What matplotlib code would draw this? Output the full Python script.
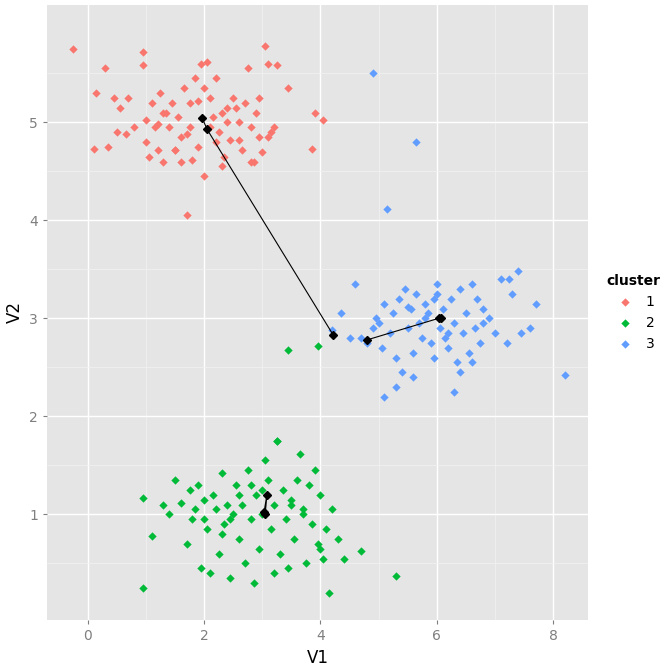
import matplotlib
matplotlib.use("Agg")
import matplotlib.pyplot as plt

c1_x = [-0.25,0.1,0.15,0.3,0.35,0.45,0.5,0.55,0.65,0.7,0.95,0.95,1.0,1.05,1.1,1.15,1.2,1.25,1.3,1.35,1.4,1.45,1.5,1.55,1.6,1.65,1.7,1.7,1.75,1.8,1.85,1.9,1.95,2.0,2.05,2.1,2.1,2.15,2.2,2.2,2.25,2.3,2.35,2.4,2.45,2.5,2.55,2.6,2.65,2.7,2.75,2.8,2.85,2.9,2.95,3.0,3.05,3.1,3.15,3.2,3.25,3.45,3.85,3.9,4.05,1.0,1.3,1.6,2.0,2.4,2.8,3.1,1.5,1.2,0.8,2.6,1.9,2.3,2.95,1.75]
c1_y = [5.75,4.73,5.3,5.55,4.75,5.25,4.9,5.15,4.88,5.25,5.72,5.58,5.02,4.65,5.2,4.95,4.72,5.3,4.6,5.1,4.95,5.2,4.72,5.05,4.6,5.35,4.05,4.88,5.2,4.62,5.45,4.75,5.6,4.45,5.62,4.95,5.25,5.05,5.45,4.8,4.9,5.1,4.65,5.0,4.82,5.25,5.15,5.0,4.72,5.2,5.55,4.95,4.6,5.1,4.85,4.7,5.78,5.6,4.9,4.95,5.58,5.35,4.73,5.1,5.02,4.8,5.1,4.85,5.35,5.15,4.6,4.85,4.72,4.98,4.95,4.82,5.22,4.55,5.25,4.95]

c2_x = [0.95,0.95,1.1,1.3,1.4,1.5,1.6,1.7,1.75,1.8,1.9,1.95,2.0,2.05,2.1,2.15,2.2,2.25,2.3,2.35,2.4,2.45,2.5,2.55,2.6,2.65,2.7,2.75,2.8,2.85,2.9,2.95,3.0,3.05,3.1,3.15,3.2,3.25,3.3,3.35,3.4,3.45,3.5,3.55,3.6,3.65,3.7,3.75,3.8,3.85,3.9,3.95,4.0,4.05,4.1,4.15,4.2,4.3,4.4,4.7,5.3,3.45,3.95,3.25,2.0,2.6,3.0,3.5,2.3,1.85,2.8,3.7,4.0,3.2,2.45]
c2_y = [1.17,0.25,0.78,1.1,1.0,1.35,1.12,0.7,1.25,0.95,1.3,0.45,1.15,0.85,0.4,1.2,1.05,0.6,1.42,0.9,1.1,0.35,1.0,1.3,0.75,1.1,0.5,1.45,0.95,0.3,1.2,0.65,1.0,1.55,1.35,0.85,1.1,1.75,0.6,1.25,0.95,0.45,1.15,0.75,1.35,1.62,1.0,0.5,1.3,0.9,1.45,0.7,1.2,0.55,0.85,0.2,1.05,0.75,0.55,0.63,0.37,2.68,2.72,1.75,0.95,1.2,1.25,1.1,0.8,1.05,1.3,1.05,0.65,0.4,0.95]

c3_x = [4.9,5.65,5.15,8.2,7.7,7.4,5.1,6.3,4.2,4.35,4.5,4.6,4.7,4.8,4.9,4.95,5.0,5.05,5.1,5.2,5.25,5.3,5.35,5.4,5.45,5.5,5.55,5.6,5.65,5.7,5.75,5.8,5.85,5.9,5.95,6.0,6.05,6.1,6.15,6.2,6.25,6.3,6.35,6.4,6.45,6.5,6.55,6.6,6.65,6.7,6.75,6.8,6.9,7.0,7.1,7.2,7.3,7.45,7.6,5.3,5.6,6.0,6.4,6.8,5.8,6.2,7.25,5.5,6.6,5.95]
c3_y = [5.5,4.8,4.12,2.42,3.15,3.48,2.2,2.25,2.88,3.05,2.8,3.35,2.8,2.75,2.9,3.0,2.95,2.7,3.15,2.85,3.05,2.6,3.2,2.45,3.3,2.9,3.1,2.65,3.25,2.95,2.8,3.15,3.05,2.75,2.6,3.35,2.9,3.1,2.8,2.7,3.2,2.95,2.55,3.3,2.85,3.05,2.65,3.35,2.9,3.2,2.75,3.1,3.0,2.85,3.4,2.75,3.25,2.85,2.9,2.3,2.4,3.25,2.45,2.95,3.0,2.85,3.4,3.12,2.55,3.2]

p1_x = [4.22,2.05,1.97]; p1_y = [2.83,4.93,5.04]
p2_x = [4.8,6.03,6.08]; p2_y = [2.78,3.0,3.0]
p3_x = [3.05,3.08,3.03]; p3_y = [1.0,1.2,1.02]

fig = plt.figure(figsize=(6.72,6.72), dpi=100)
ax = fig.add_axes([0.07, 0.077, 0.805, 0.916])
ax.set_facecolor('#E5E5E5')
for s in ax.spines.values(): s.set_visible(False)
ax.set_xlim(-0.7, 8.6); ax.set_ylim(-0.08, 6.2)
ax.set_xticks([0,2,4,6,8]); ax.set_yticks([1,2,3,4,5])
ax.set_xticks([1,3,5,7], minor=True); ax.set_yticks([0.5,1.5,2.5,3.5,4.5,5.5], minor=True)
ax.grid(True, which='major', color='white', lw=1.0)
ax.grid(True, which='minor', color='#F2F2F2', lw=0.5)
ax.set_axisbelow(True)
ax.tick_params(which='both', length=0)
ax.tick_params(which='major', length=3, color='#7F7F7F', labelcolor='#7F7F7F', labelsize=10)
cols = ['#F8766D', '#00BA38', '#619CFF']
for (x, y), c, lab in zip([(c1_x,c1_y),(c2_x,c2_y),(c3_x,c3_y)], cols, ['1','2','3']):
    ax.scatter(x, y, s=18, marker='D', color=c, label=lab, lw=0)
for x, y in [(p1_x,p1_y),(p2_x,p2_y),(p3_x,p3_y)]:
    ax.plot(x, y, color='black', lw=0.8, marker='D', ms=4)
ax.set_xlabel('V1', fontsize=12); ax.set_ylabel('V2', fontsize=12)
leg = ax.legend(title='cluster', loc='center left', bbox_to_anchor=(1.01, 0.5), frameon=False,
                handletextpad=0.5, markerscale=1.0)
leg.get_title().set_fontweight('bold')
fig.savefig('out.png', dpi=100)
